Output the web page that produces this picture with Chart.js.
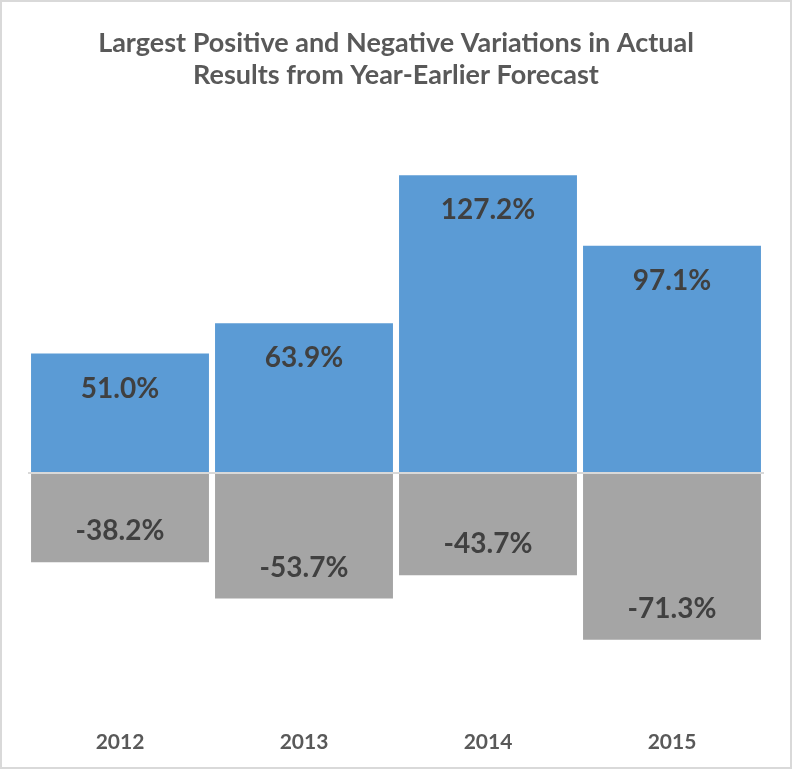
<!DOCTYPE html>
<html>
<head>
<meta charset="utf-8">
<script src="https://cdn.jsdelivr.net/npm/chart.js@4"></script>
<style>
  html, body { margin: 0; padding: 0; background: #fff; }
  #wrap { width: 792px; height: 769px; }
</style>
</head>
<body>
<div id="wrap"><canvas id="chart" width="792" height="769"></canvas></div>
<script>
const years = ['2012', '2013', '2014', '2015'];
const positiveVals = [51.0, 63.9, 127.2, 97.1];
const negativeVals = [-38.2, -53.7, -43.7, -71.3];
const titleLines = ['Largest Positive and Negative Variations in Actual', 'Results from Year-Earlier Forecast'];

const FONT = 'Lato, "Open Sans", sans-serif';

// labels inside the end of each bar
const barLabels = {
  id: 'barLabels',
  afterDatasetsDraw(chart) {
    const ctx = chart.ctx;
    ctx.save();
    ctx.font = 'bold 28px ' + FONT;
    ctx.fillStyle = '#404040';
    ctx.textAlign = 'center';
    ctx.textBaseline = 'middle';
    chart.data.datasets.forEach((ds, i) => {
      chart.getDatasetMeta(i).data.forEach((bar, j) => {
        const v = ds.data[j];
        const y = v >= 0 ? bar.y + 35 : bar.y - 31;
        ctx.fillText(v.toFixed(1) + '%', bar.x, y);
      });
    });
    ctx.restore();
  }
};

// light frame round the chart
const frame = {
  id: 'frame',
  afterDraw(chart) {
    const ctx = chart.ctx;
    ctx.save();
    ctx.strokeStyle = '#D9D9D9';
    ctx.lineWidth = 2;
    ctx.strokeRect(1, 1, chart.width - 2, chart.height - 2);
    ctx.restore();
  }
};

new Chart(document.getElementById('chart'), {
  type: 'bar',
  data: {
    labels: years,
    datasets: [
      { data: positiveVals, backgroundColor: '#5B9BD5', barPercentage: 0.967, categoryPercentage: 1 },
      { data: negativeVals, backgroundColor: '#A5A5A5', barPercentage: 0.967, categoryPercentage: 1 }
    ]
  },
  options: {
    responsive: false,
    animation: false,
    devicePixelRatio: 1,
    layout: { padding: { left: 28, right: 28, top: 0, bottom: 0 } },
    plugins: {
      legend: { display: false },
      tooltip: { enabled: false },
      title: {
        display: true,
        text: titleLines,
        color: '#595959',
        font: { family: FONT, size: 27, weight: 'bold', lineHeight: 1.2 },
        padding: { top: 27, bottom: 30 }
      }
    },
    scales: {
      x: {
        stacked: true,
        grid: { display: false, drawTicks: false },
        border: { display: false },
        ticks: { color: '#595959', padding: 23, font: { family: FONT, size: 21, weight: 'bold' } },
        afterFit: s => { s.height = 62; }
      },
      y: {
        stacked: true,
        min: -100,
        max: 150,
        display: true,
        z: 1,
        ticks: { display: false, stepSize: 50 },
        border: { display: false },
        grid: {
          drawTicks: false,
          lineWidth: 2,
          color: c => c.tick && c.tick.value === 0 ? '#D9D9D9' : 'rgba(0,0,0,0)'
        }
      }
    }
  },
  plugins: [barLabels, frame]
});
</script>
</body>
</html>
